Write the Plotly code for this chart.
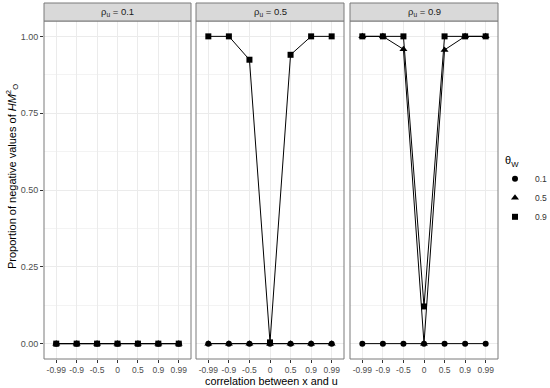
import plotly.graph_objects as go

# ---- data ----
categories = ["-0.99", "-0.9", "-0.5", "0", "0.5", "0.9", "0.99"]
panels = ["0.1", "0.5", "0.9"]          # rho_u
theta_levels = ["0.1", "0.5", "0.9"]    # theta_W
# values[panel][theta]
values = {
    "0.1": {
        "0.1": [0, 0, 0, 0, 0, 0, 0],
        "0.5": [0, 0, 0, 0, 0, 0, 0],
        "0.9": [0, 0, 0, 0, 0, 0, 0],
    },
    "0.5": {
        "0.1": [0, 0, 0, 0, 0, 0, 0],
        "0.5": [0, 0, 0, 0, 0, 0, 0],
        "0.9": [1.0, 1.0, 0.924, 0.004, 0.94, 1.0, 1.0],
    },
    "0.9": {
        "0.1": [0, 0, 0, 0, 0, 0, 0],
        "0.5": [1.0, 1.0, 0.958, 0.0, 0.956, 1.0, 1.0],
        "0.9": [1.0, 1.0, 1.0, 0.121, 1.0, 1.0, 1.0],
    },
}
symbols = {"0.1": "circle", "0.5": "triangle-up", "0.9": "square"}
y_ticks = [0, 0.25, 0.5, 0.75, 1.0]
y_ticklabels = ["0.00", "0.25", "0.50", "0.75", "1.00"]

W, H = 550, 388
FONT = "Liberation Sans, Arial, sans-serif"

def px_x(p):
    return p / W

def px_y(p):
    return 1 - p / H

x_domains = [(44, 191), (196, 344), (350, 498)]
y_dom = (px_y(359), px_y(21))
strip_top = px_y(3)

fig = go.Figure()
marker_sizes = {"circle": 6, "triangle-up": 7, "square": 6}

for i, p in enumerate(panels):
    ax = "" if i == 0 else str(i + 1)
    for t in theta_levels:
        fig.add_trace(go.Scatter(
            x=categories, y=values[p][t], mode="lines+markers",
            line=dict(color="black", width=1),
            marker=dict(symbol=symbols[t], color="black", size=marker_sizes[symbols[t]]),
            xaxis="x" + ax, yaxis="y" + ax, showlegend=False, hoverinfo="skip"))

# legend-only traces
for t in theta_levels:
    fig.add_trace(go.Scatter(
        x=[None], y=[None], mode="markers", name=t,
        marker=dict(symbol=symbols[t], color="black", size=marker_sizes[symbols[t]]),
        xaxis="x", yaxis="y", showlegend=True))

layout = dict(
    width=W, height=H, autosize=False,
    margin=dict(l=0, r=0, t=0, b=0, autoexpand=False),
    paper_bgcolor="white", plot_bgcolor="white",
    font=dict(family=FONT, color="#4d4d4d", size=9),
    legend=dict(
        title=dict(text="θ<sub>W</sub>", font=dict(size=11, color="black")),
        x=px_x(503), y=px_y(150), xanchor="left", yanchor="top",
        font=dict(size=8.5, color="#333333"),
        tracegroupgap=0, itemwidth=30, indentation=-8,
        bgcolor="rgba(0,0,0,0)"),
)

shapes = []
annotations = []
for i, (x0, x1) in enumerate(x_domains):
    ax = "" if i == 0 else str(i + 1)
    layout["xaxis" + ax] = dict(
        domain=[px_x(x0), px_x(x1)], anchor="y" + ax,
        type="category", categoryorder="array", categoryarray=categories,
        range=[-0.6, 6.6],
        showgrid=True, gridcolor="#ebebeb", gridwidth=1,
        zeroline=False, showline=False,
        ticks="outside", ticklen=3, tickcolor="#333333", tickwidth=1,
        tickangle=0,
        tickfont=dict(size=8.5, color="#4d4d4d"),
        fixedrange=True,
    )
    layout["yaxis" + ax] = dict(
        domain=list(y_dom), anchor="x" + ax,
        range=[-0.05, 1.05],
        tickvals=y_ticks, ticktext=y_ticklabels,
        showticklabels=(i == 0),
        showgrid=True, gridcolor="#ebebeb", gridwidth=1,
        minor=dict(tickvals=[0.125, 0.375, 0.625, 0.875], showgrid=True,
                   gridcolor="#f3f3f3", gridwidth=0.6, ticks=""),
        zeroline=False, showline=False,
        ticks="outside" if i == 0 else "", ticklen=3, tickcolor="#333333", tickwidth=1,
        tickfont=dict(size=9, color="#4d4d4d"),
        fixedrange=True,
    )
    # panel border
    shapes.append(dict(type="rect", xref="paper", yref="paper",
                       x0=px_x(x0), x1=px_x(x1), y0=y_dom[0], y1=y_dom[1],
                       line=dict(color="#7a7a7a", width=1), fillcolor="rgba(0,0,0,0)",
                       layer="above"))
    # strip
    shapes.append(dict(type="rect", xref="paper", yref="paper",
                       x0=px_x(x0), x1=px_x(x1), y0=y_dom[1], y1=strip_top,
                       line=dict(color="#7a7a7a", width=1), fillcolor="#d9d9d9",
                       layer="above"))
    annotations.append(dict(text=f"ρ<sub>u</sub> = {panels[i]}", xref="paper", yref="paper",
                            x=px_x((x0 + x1) / 2), y=(y_dom[1] + strip_top) / 2,
                            xanchor="center", yanchor="middle", showarrow=False,
                            font=dict(size=9.5, color="#1a1a1a")))

annotations.append(dict(text="correlation between x and u", xref="paper", yref="paper",
                        x=px_x(271), y=px_y(381), xanchor="center", yanchor="middle",
                        showarrow=False, font=dict(size=10.8, color="black")))
annotations.append(dict(text="Proportion of negative values of <i>HM</i><sup>2</sup><sub>O</sub>",
                        xref="paper", yref="paper", textangle=-90,
                        x=px_x(12), y=px_y(177), xanchor="center", yanchor="middle",
                        showarrow=False, font=dict(size=11, color="black")))

layout["shapes"] = shapes
layout["annotations"] = annotations
fig.update_layout(**layout)

post = (
    "document.documentElement.style.overflow='hidden';"
    "document.body.style.overflow='hidden';"
    "document.body.style.margin='0';document.body.style.padding='0';"
)
fig.write_html("out.html", config={"displayModeBar": False, "responsive": False},
               post_script=post)
